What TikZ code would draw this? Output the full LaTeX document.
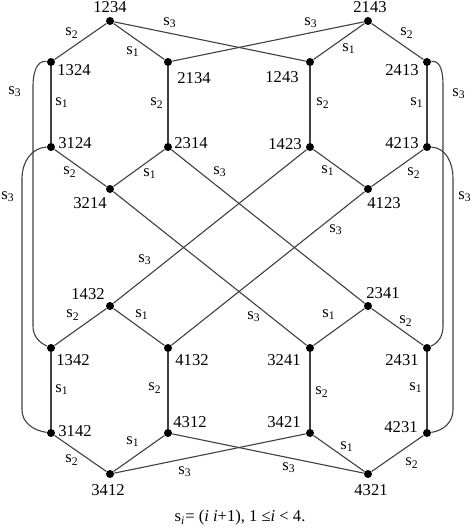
\documentclass[tikz,border=0pt]{standalone}
\usepackage{fontspec}
\setmainfont{Liberation Serif}
\newcommand{\sg}[1]{s\textsubscript{#1}}

\begin{document}
\begin{tikzpicture}[x=0.5pt,y=-0.5pt,
    perm/.style={circle,fill=black,inner sep=0pt,minimum size=4pt},
    lbl/.style={inner sep=0pt,font=\fontsize{8.3}{10}\selectfont},
    link/.style={line width=0.55pt,black!75}]
        \useasboundingbox (0,0) rectangle (474,530);
        % permutations
        \foreach \x/\y/\p in {110/21/1234, 368/21/2143, 51/62/1324, 168/62/2134,
            310/62/1243, 427/62/2413, 51/147/3124, 168/147/2314, 310/147/1423,
            427/147/4213, 110/189/3214, 368/189/4123, 110/306/1432, 368/306/2341,
            51/348/1342, 168/348/4132, 310/348/3241, 427/348/2431, 51/433/3142,
            168/433/4312, 310/433/3421, 427/433/4231, 110/474/3412, 368/474/4321}
            \node[perm] (p\p) at (\x,\y) {};
        \foreach \x/\y/\p in {110/7/1234, 370/7/2143, 74/70/1324, 194/78/2134,
            282/77/1243, 402/70/2413, 75/143/3124, 191/143/2314, 285/144/1423,
            402/143/4213, 90/203/3214, 384/203/4123, 88/294/1432, 383/293/2341,
            73/360/1342, 192/360/4132, 284/360/3241, 402/360/2431, 75/431/3142,
            190/422/4312, 284/422/3421, 401/427/4231, 108/490/3412, 371/490/4321}
            \node[lbl] (t\p) at (\x,\y) {\p};
        % straight edges
        \foreach \a/\b in {1234/1324, 1234/2134, 1234/1243, 2134/2143, 2143/1243,
            2143/2413, 1324/3124, 2134/2314, 1243/1423, 2413/4213, 3124/3214,
            2314/3214, 1423/4123, 4213/4123, 2314/2341, 1423/1432, 3214/3241,
            4123/4132, 1432/1342, 1432/4132, 2341/3241, 2341/2431, 1342/3142,
            4132/4312, 3241/3421, 2431/4231, 3142/3412, 4312/3412, 3421/4321,
            4231/4321, 4312/4321, 3412/3421}
            \draw[link] (p\a) -- (p\b);
        % s3 arcs round the sides
        \draw[link] (p1324) to[out=172,in=90] (33,86) -- (33,326) to[out=-90,in=155] (p1342);
        \draw[link] (p3124) to[out=182,in=90] (22,178) -- (22,410) to[out=-90,in=172] (p3142);
        \draw[link] (p2413) to[out=8,in=90] (443,86) -- (443,326) to[out=-90,in=25] (p2431);
        \draw[link] (p4213) to[out=-2,in=90] (453,178) -- (453,410) to[out=-90,in=8] (p4231);
        % generators
        \foreach \x/\y/\i [count=\k] in {72/33/2, 133/52/1, 170/23/3, 311/23/3,
            349/49/1, 407/33/2, 15/92/3, 62/103/1, 157/103/2, 323/103/2, 417/103/1,
            459/94/3, 70/172/2, 150/174/1, 220/172/3, 328/171/1, 414/173/2, 8/197/3,
            465/197/3, 336/230/3, 145/260/3, 73/315/2, 142/315/1, 254/317/3,
            329/315/1, 406/321/2, 62/390/1, 155/388/2, 322/392/2, 416/388/1,
            133/442/1, 347/447/1, 72/460/2, 185/472/3, 289/468/3, 412/463/2}
            \node[lbl] (s\k) at (\x,\y) {\sg{\i}};
        \node[lbl] (cap) at (240,518) {\sg{\textit{i}}= (\textit{i} \textit{i}+1), 1 ≤\textit{i} < 4.};
    \end{tikzpicture}
\end{document}
